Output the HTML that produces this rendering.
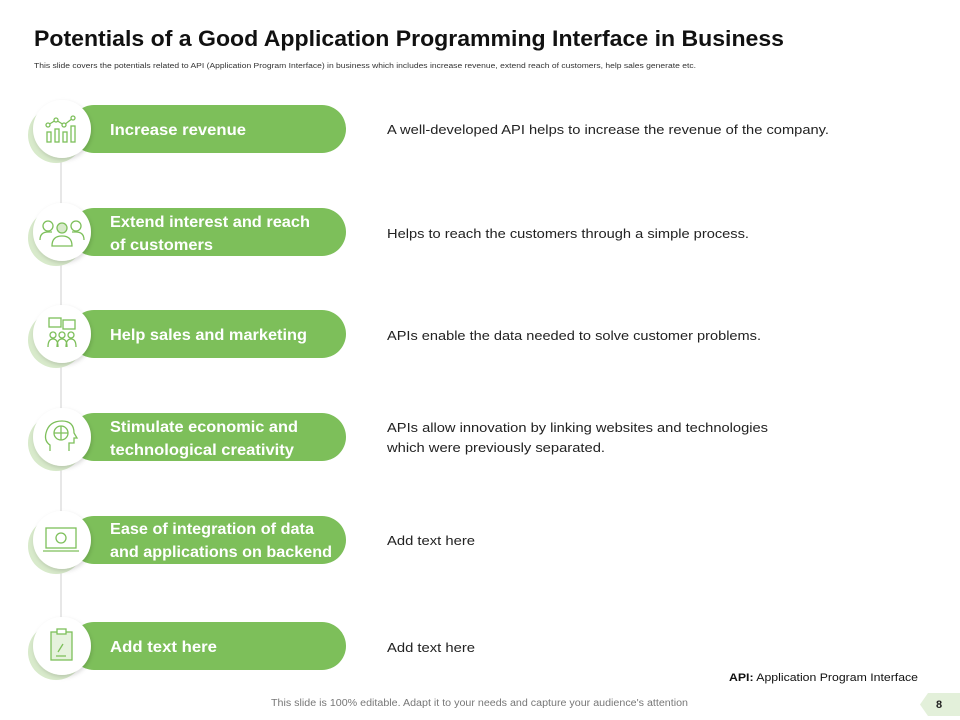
<!DOCTYPE html>
<html><head><meta charset="utf-8"><style>
html,body{margin:0;padding:0;background:#fff;}
svg{display:block;font-family:"Liberation Sans",sans-serif;}
</style></head><body>
<svg width="960" height="720" viewBox="0 0 960 720" xmlns="http://www.w3.org/2000/svg">
<rect width="960" height="720" fill="#fff"/>
<text x="34" y="46" font-size="22" font-weight="bold" fill="#111" textLength="750" lengthAdjust="spacingAndGlyphs">Potentials of a Good Application Programming Interface in Business</text>
<text x="34" y="68" font-size="7" fill="#333" textLength="662" lengthAdjust="spacingAndGlyphs">This slide covers the potentials related to API (Application Program Interface) in business which includes increase revenue, extend reach of customers, help sales generate etc.</text>
<line x1="61" y1="150" x2="61" y2="630" stroke="#cfcfcf" stroke-width="1"/>
<defs>
<filter id="sh" x="-30%" y="-30%" width="160%" height="160%"><feDropShadow dx="1" dy="2" stdDeviation="2" flood-color="#000" flood-opacity="0.15"/></filter>
</defs>
<g id="rows">
<!-- row template: pill 85..346, height 48 -->
<g transform="translate(0,129)">
<rect x="70" y="-24" width="276" height="48" rx="24" fill="#7dbf5a"/>
<circle cx="56" cy="6" r="28" fill="#d8eacb"/>
<circle cx="62" cy="0" r="29" fill="#fff" filter="url(#sh)"/>
<g stroke="#7dbf5a" fill="none" stroke-width="1.3"><rect x="47" y="3" width="4" height="10"/><rect x="55" y="0" width="4" height="13"/><rect x="63" y="3" width="4" height="10"/><rect x="71" y="-3" width="4" height="16"/><polyline points="48,-4 56,-9 64,-4 73,-11"/><circle cx="48" cy="-4" r="2" fill="#fff"/><circle cx="56" cy="-9" r="2" fill="#fff"/><circle cx="64" cy="-4" r="2" fill="#fff"/><circle cx="73" cy="-11" r="2" fill="#fff"/></g>
<text x="110" y="6" font-size="16" font-weight="bold" fill="#fff" textLength="136" lengthAdjust="spacingAndGlyphs">Increase revenue</text>
<text x="387" y="5" font-size="13" fill="#222" textLength="442" lengthAdjust="spacingAndGlyphs">A well-developed API helps to increase the revenue of the company.</text>
</g>
<g transform="translate(0,232)">
<rect x="70" y="-24" width="276" height="48" rx="24" fill="#7dbf5a"/>
<circle cx="56" cy="6" r="28" fill="#d8eacb"/>
<circle cx="62" cy="0" r="29" fill="#fff" filter="url(#sh)"/>
<g stroke="#7dbf5a" fill="none" stroke-width="1.3"><circle cx="48" cy="-6" r="5"/><circle cx="76" cy="-6" r="5"/><circle cx="62" cy="-4" r="5" fill="#d8eacb"/><path d="M40 8 q0-8 8-8 h4 M84 8 q0-8-8-8 h-4"/><path d="M52 14 q0-10 10-10 q10 0 10 10 z"/></g>
<text x="110" y="-5" font-size="16" font-weight="bold" fill="#fff" textLength="200" lengthAdjust="spacingAndGlyphs">Extend interest and reach</text>
<text x="110" y="18" font-size="16" font-weight="bold" fill="#fff" textLength="103" lengthAdjust="spacingAndGlyphs">of customers</text>
<text x="387" y="6" font-size="13" fill="#222" textLength="362" lengthAdjust="spacingAndGlyphs">Helps to reach the customers through a simple process.</text>
</g>
<g transform="translate(0,334)">
<rect x="70" y="-24" width="276" height="48" rx="24" fill="#7dbf5a"/>
<circle cx="56" cy="6" r="28" fill="#d8eacb"/>
<circle cx="62" cy="0" r="29" fill="#fff" filter="url(#sh)"/>
<g stroke="#7dbf5a" fill="none" stroke-width="1.3"><rect x="49" y="-16" width="12" height="9"/><rect x="63" y="-14" width="12" height="9"/><circle cx="53" cy="1" r="3"/><circle cx="62" cy="1" r="3"/><circle cx="71" cy="1" r="3"/><path d="M48 13 q0-8 5-8 q5 0 5 8 M57 13 q0-8 5-8 q5 0 5 8 M66 13 q0-8 5-8 q5 0 5 8"/></g>
<text x="110" y="6" font-size="16" font-weight="bold" fill="#fff" textLength="197" lengthAdjust="spacingAndGlyphs">Help sales and marketing</text>
<text x="387" y="6" font-size="13" fill="#222" textLength="374" lengthAdjust="spacingAndGlyphs">APIs enable the data needed to solve customer problems.</text>
</g>
<g transform="translate(0,437)">
<rect x="70" y="-24" width="276" height="48" rx="24" fill="#7dbf5a"/>
<circle cx="56" cy="6" r="28" fill="#d8eacb"/>
<circle cx="62" cy="0" r="29" fill="#fff" filter="url(#sh)"/>
<g stroke="#7dbf5a" fill="none" stroke-width="1.3"><path d="M50 14 v-6 q-6-4-4-12 q3-12 16-12 q12 0 12 12 l3 5 h-3 v5 h-5 v8"/><circle cx="61" cy="-4" r="7"/><path d="M54 -4 h14 M61 -11 v14"/></g>
<text x="110" y="-5" font-size="16" font-weight="bold" fill="#fff" textLength="188" lengthAdjust="spacingAndGlyphs">Stimulate economic and</text>
<text x="110" y="18" font-size="16" font-weight="bold" fill="#fff" textLength="184" lengthAdjust="spacingAndGlyphs">technological creativity</text>
<text x="387" y="-5" font-size="13" fill="#222" textLength="381" lengthAdjust="spacingAndGlyphs">APIs allow innovation by linking websites and technologies</text>
<text x="387" y="15" font-size="13" fill="#222" textLength="218" lengthAdjust="spacingAndGlyphs">which were previously separated.</text>
</g>
<g transform="translate(0,540)">
<rect x="70" y="-24" width="276" height="48" rx="24" fill="#7dbf5a"/>
<circle cx="56" cy="6" r="28" fill="#d8eacb"/>
<circle cx="62" cy="0" r="29" fill="#fff" filter="url(#sh)"/>
<g stroke="#7dbf5a" fill="none" stroke-width="1.3"><rect x="46" y="-12" width="30" height="20"/><path d="M43 11 h36"/><circle cx="61" cy="-2" r="5"/></g>
<text x="110" y="-6" font-size="16" font-weight="bold" fill="#fff" textLength="204" lengthAdjust="spacingAndGlyphs">Ease of integration of data</text>
<text x="110" y="17" font-size="16" font-weight="bold" fill="#fff" textLength="222" lengthAdjust="spacingAndGlyphs">and applications on backend</text>
<text x="387" y="5" font-size="13" fill="#222" textLength="88" lengthAdjust="spacingAndGlyphs">Add text here</text>
</g>
<g transform="translate(0,646)">
<rect x="70" y="-24" width="276" height="48" rx="24" fill="#7dbf5a"/>
<circle cx="56" cy="6" r="28" fill="#d8eacb"/>
<circle cx="62" cy="0" r="29" fill="#fff" filter="url(#sh)"/>
<g stroke="#7dbf5a" fill="none" stroke-width="1.3"><rect x="51" y="-14" width="21" height="28" fill="#e6f2dd"/><rect x="57" y="-17" width="9" height="5" fill="#fff"/><path d="M58 6 l5-8 M56 10 h10"/></g>
<text x="110" y="6" font-size="16" font-weight="bold" fill="#fff" textLength="107" lengthAdjust="spacingAndGlyphs">Add text here</text>
<text x="387" y="6" font-size="13" fill="#222" textLength="88" lengthAdjust="spacingAndGlyphs">Add text here</text>
</g>
</g>
<text x="729" y="681" font-size="11" fill="#111" textLength="189" lengthAdjust="spacingAndGlyphs"><tspan font-weight="bold">API:</tspan> Application Program Interface</text>
<text x="271" y="706" font-size="10" fill="#777" textLength="417" lengthAdjust="spacingAndGlyphs">This slide is 100% editable. Adapt it to your needs and capture your audience's attention</text>
<polygon points="928,693 960,693 960,716 928,716 920,704.5" fill="#e3f0da"/>
<text x="936" y="708" font-size="11" font-weight="bold" fill="#222">8</text>
</svg>
</body></html>
